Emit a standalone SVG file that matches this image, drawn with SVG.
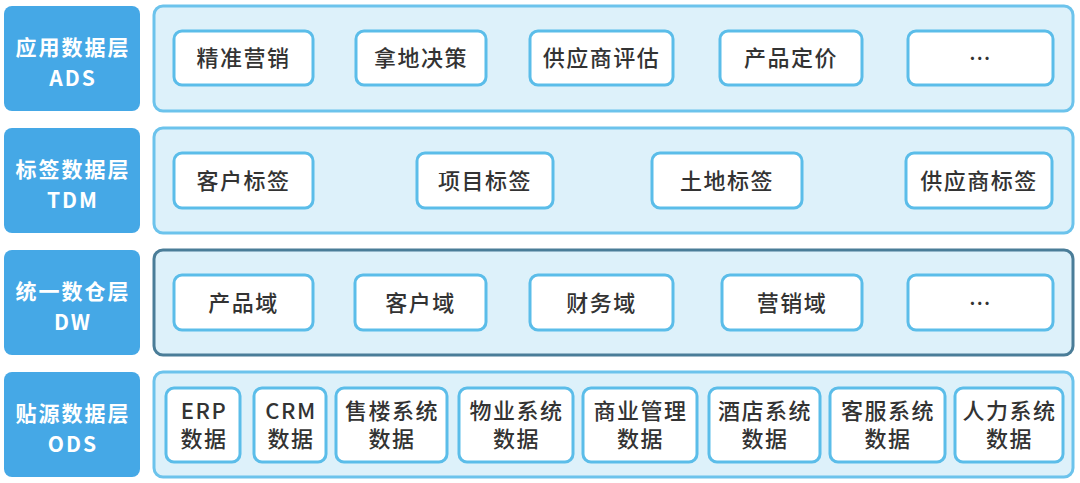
<svg xmlns="http://www.w3.org/2000/svg" width="1080" height="483" viewBox="0 0 1080 483">
<style>
.lb{fill:#45a8e6}
.lt{fill:#fff;font-family:"Noto Sans CJK SC",sans-serif;font-size:21px;font-weight:bold;text-anchor:middle;letter-spacing:2px}
.pn{fill:#ddf1fa;stroke:#6cc3ec;stroke-width:3}
.bx{fill:#fff;stroke:#5bbde9;stroke-width:3}
.t{fill:#333;font-family:"Noto Sans CJK SC",sans-serif;font-size:22px;font-weight:500;text-anchor:middle;letter-spacing:1.5px}
</style>
<rect width="1080" height="483" fill="#fff"/>
<g id="ads">
<rect class="lb" x="4" y="6" width="136" height="105" rx="8"/>
<text class="lt" x="73" y="55">应用数据层</text><text class="lt" x="73" y="86">ADS</text>
<rect class="pn" x="154" y="6" width="919" height="105" rx="9"/>
<rect class="bx" x="174" y="31" width="139" height="54" rx="8"/><text class="t" x="243.5" y="66">精准营销</text>
<rect class="bx" x="356" y="31" width="130" height="54" rx="8"/><text class="t" x="421" y="66">拿地决策</text>
<rect class="bx" x="530" y="31" width="143" height="54" rx="8"/><text class="t" x="601.5" y="66">供应商评估</text>
<rect class="bx" x="720" y="31" width="142" height="54" rx="8"/><text class="t" x="791" y="66">产品定价</text>
<rect class="bx" x="908" y="31" width="145" height="54" rx="8"/><text class="t" x="980.5" y="66">…</text>
</g>
<g id="tdm">
<rect class="lb" x="4" y="128" width="136" height="105" rx="8"/>
<text class="lt" x="73" y="177">标签数据层</text><text class="lt" x="73" y="208">TDM</text>
<rect class="pn" x="154" y="128" width="919" height="105" rx="9"/>
<rect class="bx" x="174" y="153" width="139" height="55" rx="8"/><text class="t" x="243.5" y="189">客户标签</text>
<rect class="bx" x="417" y="153" width="136" height="55" rx="8"/><text class="t" x="485" y="189">项目标签</text>
<rect class="bx" x="652" y="153" width="150" height="55" rx="8"/><text class="t" x="727" y="189">土地标签</text>
<rect class="bx" x="906" y="153" width="146" height="55" rx="8"/><text class="t" x="979" y="189">供应商标签</text>
</g>
<g id="dw">
<rect class="lb" x="4" y="250" width="136" height="105" rx="8"/>
<text class="lt" x="73" y="299">统一数仓层</text><text class="lt" x="73" y="330">DW</text>
<rect class="pn" x="154" y="250" width="919" height="105" rx="9" style="stroke:#4a7d98"/>
<rect class="bx" x="174" y="275" width="139" height="55" rx="8"/><text class="t" x="243.5" y="311">产品域</text>
<rect class="bx" x="355" y="275" width="131" height="55" rx="8"/><text class="t" x="420.5" y="311">客户域</text>
<rect class="bx" x="530" y="275" width="143" height="55" rx="8"/><text class="t" x="601.5" y="311">财务域</text>
<rect class="bx" x="722" y="275" width="140" height="55" rx="8"/><text class="t" x="792" y="311">营销域</text>
<rect class="bx" x="908" y="275" width="145" height="55" rx="8"/><text class="t" x="980.5" y="311">…</text>
</g>
<g id="ods">
<rect class="lb" x="4" y="372" width="136" height="105" rx="8"/>
<text class="lt" x="73" y="421">贴源数据层</text><text class="lt" x="73" y="452">ODS</text>
<rect class="pn" x="154" y="372" width="919" height="105" rx="9"/>
<rect class="bx" x="166" y="388" width="74" height="74" rx="8"/><text class="t" x="204" y="419">ERP</text><text class="t" x="204" y="447">数据</text>
<rect class="bx" x="254" y="388" width="72" height="74" rx="8"/><text class="t" x="291" y="419">CRM</text><text class="t" x="291" y="447">数据</text>
<rect class="bx" x="336" y="388" width="111" height="74" rx="8"/><text class="t" x="392" y="419">售楼系统</text><text class="t" x="392" y="447">数据</text>
<rect class="bx" x="459" y="388" width="114" height="74" rx="8"/><text class="t" x="516.5" y="419">物业系统</text><text class="t" x="516.5" y="447">数据</text>
<rect class="bx" x="583" y="388" width="114" height="74" rx="8"/><text class="t" x="640.5" y="419">商业管理</text><text class="t" x="640.5" y="447">数据</text>
<rect class="bx" x="709" y="388" width="111" height="74" rx="8"/><text class="t" x="765" y="419">酒店系统</text><text class="t" x="765" y="447">数据</text>
<rect class="bx" x="830" y="388" width="115" height="74" rx="8"/><text class="t" x="888" y="419">客服系统</text><text class="t" x="888" y="447">数据</text>
<rect class="bx" x="955" y="388" width="108" height="74" rx="8"/><text class="t" x="1009.5" y="419">人力系统</text><text class="t" x="1009.5" y="447">数据</text>
</g>
<g id="connectors"></g>
</svg>
